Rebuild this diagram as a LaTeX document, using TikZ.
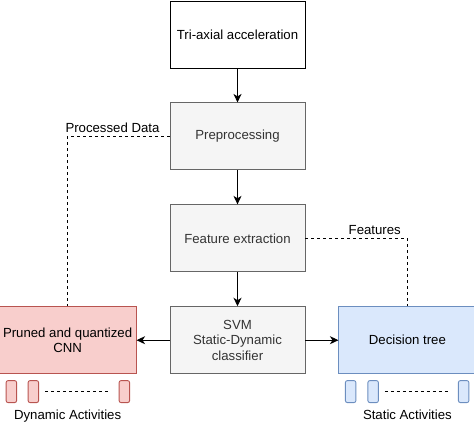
\documentclass[tikz,border=0pt]{standalone}
\usepackage{fontspec}
\setmainfont{Liberation Sans}
\usetikzlibrary{arrows.meta,positioning}
\definecolor{gfill}{HTML}{F5F5F5}
\definecolor{gline}{HTML}{666666}
\definecolor{gtext}{HTML}{333333}
\definecolor{rfill}{HTML}{F8CECC}
\definecolor{rline}{HTML}{B85450}
\definecolor{bfill}{HTML}{DAE8FC}
\definecolor{bline}{HTML}{6C8EBF}
\tikzset{
  box/.style={draw=black, rectangle, align=center, font=\fontsize{13.2}{15.5}\selectfont, minimum width=135pt, minimum height=67pt, inner sep=2pt, fill=white, line width=0.9pt},
  gbox/.style={box, draw=gline, fill=gfill, text=gtext},
  rbox/.style={box, draw=rline, fill=rfill, text=black, minimum width=137pt},
  bbox/.style={box, draw=bline, fill=bfill, text=black, minimum width=137pt},
  rcls/.style={draw=rline, fill=rfill, rectangle, rounded corners=2pt, minimum width=10.5pt, minimum height=22pt, inner sep=0pt, line width=0.9pt, anchor=north west},
  bcls/.style={rcls, draw=bline, fill=bfill},
  arr/.style={-{Stealth[length=8.5pt, width=8pt, inset=2.5pt]}, line width=0.9pt},
  darr/.style={line width=0.9pt, dash pattern=on 3pt off 3pt},
  lbl/.style={font=\fontsize{13.2}{15.5}\selectfont, inner sep=1pt},
}
\begin{document}
\begin{tikzpicture}[x=1pt, y=1pt, node distance=34pt and 33pt]
\useasboundingbox (0,0) rectangle (474,-425);
\node[box] (acc) at (237.5,-34.5) {Tri-axial acceleration};
\node[gbox, below=of acc] (pre) {Preprocessing};
\node[gbox, below=of pre] (feat) {Feature extraction};
\node[gbox, below=of feat] (svm) {SVM\\Static-Dynamic\\classifier};
\node[rbox, left=of svm] (cnn) {Pruned and quantized\\CNN};
\node[bbox, right=of svm] (tree) {Decision tree};
\draw[arr] (acc) -- (pre);
\draw[arr] (pre) -- (feat);
\draw[arr] (feat) -- (svm);
\draw[arr] (svm) -- (cnn);
\draw[arr] (svm) -- (tree);
\draw[darr] (pre.west) -| node[lbl, above=2pt, pos=0.28]{Processed Data} (cnn.north);
\draw[darr] (feat.east) -| node[lbl, above=2pt, pos=0.34]{Features} (tree.north);
% activity classes
\node[rcls] (d1) at ([xshift=7pt, yshift=-6pt]cnn.south west) {};
\node[rcls] (d2) at ([xshift=29pt, yshift=-6pt]cnn.south west) {};
\node[rcls] (d3) at ([xshift=120pt, yshift=-6pt]cnn.south west) {};
\draw[darr, line width=0.8pt, shorten <=6pt, shorten >=9pt] (d2) -- (d3);
\node[lbl, below=35pt of cnn] (dyn) {Dynamic Activities};
\node[bcls] (s1) at ([xshift=6.5pt, yshift=-6pt]tree.south west) {};
\node[bcls] (s2) at ([xshift=29pt, yshift=-6pt]tree.south west) {};
\node[bcls] (s3) at ([xshift=119.5pt, yshift=-6pt]tree.south west) {};
\draw[darr, line width=0.8pt, shorten <=6pt, shorten >=9pt] (s2) -- (s3);
\node[lbl, below=35pt of tree] (sta) {Static Activities};
\end{tikzpicture}
\end{document}
